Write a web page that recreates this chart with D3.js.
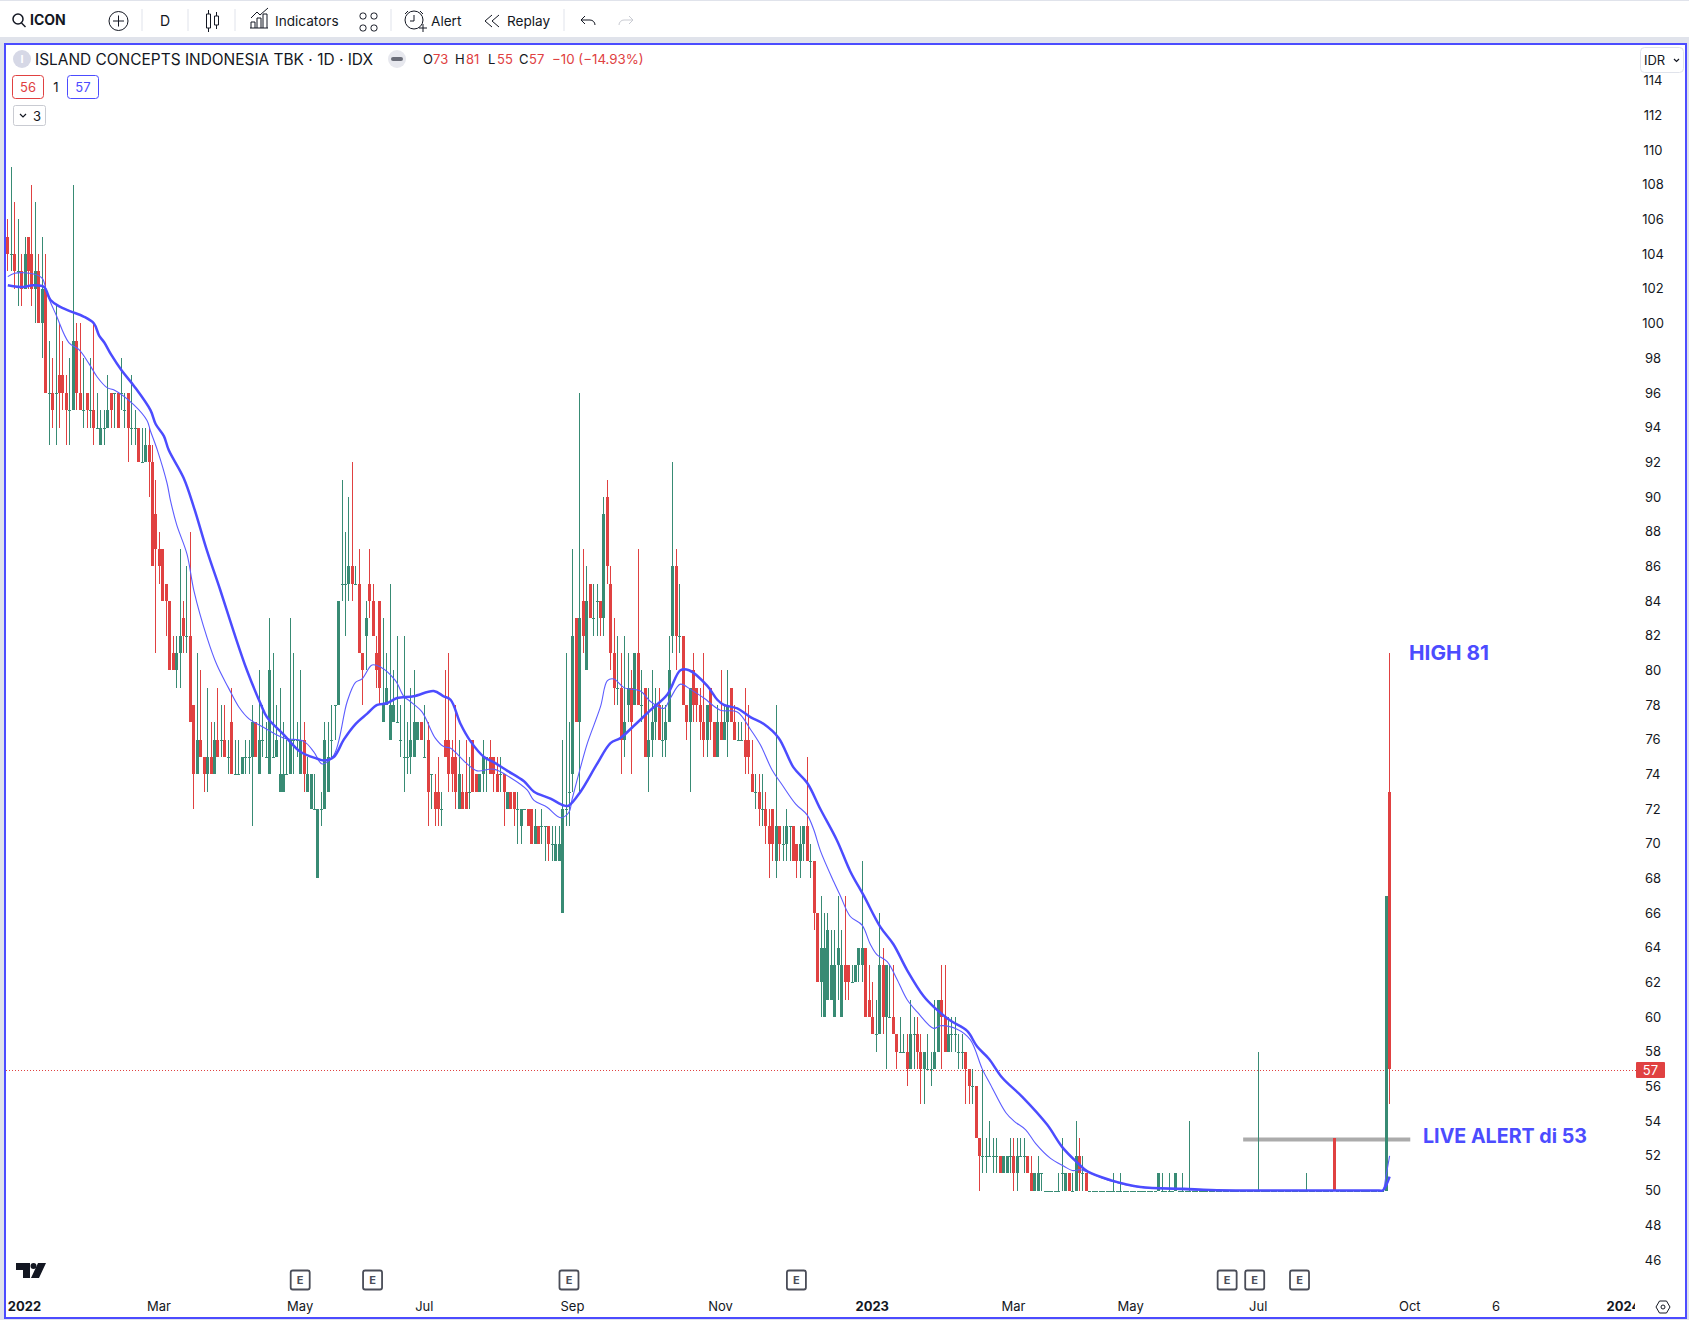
<!DOCTYPE html>
<html><head><meta charset="utf-8">
<script src="https://cdn.jsdelivr.net/npm/d3@7"></script>
<style>html,body{margin:0;padding:0;background:#fff}svg{display:block}text{font-family:Inter,"Noto Sans",sans-serif}</style>
</head><body><svg id="c" width="1689" height="1320"></svg>
<script>
// [open, high, low, close] for every daily bar
const ohlc = [
[105,106,103,104],[104,109,103,104],[104,107,102,103],[103,106,101,103],[103,104,101,102],[102,105,102,104],[105,105,102,103],[104,108,101,102],[102,107,100,103],[103,104,100,100],
[100,105,98,102],[102,104,96,96],[96,99,93,96],[96,98,94,95],[96,101,93,96],[97,100,94,96],[97,99,95,96],[96,97,93,95],[95,98,93,95],[95,108,95,99],
[99,100,95,96],[96,100,95,95],[95,98,94,95],[96,96,94,95],[95,98,94,95],[95,100,93,94],[94,96,94,94],[93,95,93,94],[94,95,93,94],[94,97,94,95],
[96,96,94,95],[96,96,94,96],[96,96,94,94],[96,98,95,96],[95,96,94,95],[96,96,92,94],[94,97,93,94],[94,95,93,94],[94,94,92,92],[92,94,92,92],
[92,94,92,93],[93,94,90,92],[92,93,86,86],[89,91,81,87],[87,88,85,86],[87,87,84,84],[85,85,82,84],[84,84,80,80],[81,82,80,80],[80,82,79,81],
[81,87,79,82],[83,84,81,82],[82,86,81,82],[82,88,77,77],[78,78,72,74],[74,81,74,76],[76,80,75,75],[75,75,73,74],[74,79,73,75],[75,77,74,74],
[74,77,74,76],[76,79,75,75],[76,78,75,76],[76,78,75,75],[75,76,74,75],[77,79,74,74],[74,76,74,74],[74,76,74,74],[74,75,74,75],[75,76,74,75],
[75,76,74,75],[75,78,71,77],[77,77,75,75],[74,80,74,76],[76,78,75,76],[75,77,75,75],[74,83,74,80],[75,81,75,75],[75,78,75,76],[73,79,73,74],
[73,77,73,74],[74,76,74,74],[74,83,74,76],[76,81,74,76],[76,77,75,76],[74,80,74,76],[76,77,73,74],[73,75,73,74],[72,74,72,74],[72,74,72,72],
[68,72,68,72],[72,73,71,72],[72,77,72,76],[73,77,73,75],[76,78,75,76],[78,78,76,78],[78,84,78,84],[85,91,84,85],[85,88,82,85],[85,90,84,86],
[86,92,84,85],[85,86,85,85],[85,87,81,81],[81,81,78,80],[82,84,80,83],[85,87,83,84],[84,85,82,82],[81,82,79,80],[84,84,78,79],[77,83,77,78],
[78,81,78,79],[76,85,76,78],[77,80,77,78],[77,82,77,77],[76,78,75,76],[75,82,73,75],[75,77,74,75],[75,79,74,76],[75,80,75,77],[76,77,76,77],
[77,77,76,76],[75,78,75,75],[76,77,71,73],[74,74,72,74],[73,74,71,72],[73,75,71,72],[72,73,71,72],[76,80,75,75],[76,81,73,74],[75,76,73,74],
[75,78,72,73],[72,76,72,74],[73,74,72,72],[73,76,72,72],[73,75,72,73],[76,76,73,73],[74,74,73,73],[73,74,73,74],[74,76,73,75],[75,75,73,75],
[75,76,74,74],[75,75,73,74],[74,75,73,73],[74,75,73,74],[74,74,71,73],[72,73,72,73],[73,73,72,72],[73,73,71,72],[72,73,70,72],[71,72,70,72],
[72,72,72,72],[72,72,71,71],[72,72,70,70],[70,72,70,71],[71,71,70,70],[71,72,70,71],[71,71,69,71],[71,71,69,70],[70,71,69,70],[69,71,69,70],
[69,71,69,70],[66,76,66,72],[72,81,71,72],[73,77,71,73],[74,87,73,82],[83,83,77,77],[77,96,73,83],[84,87,81,82],[80,86,80,84],[85,85,83,83],
[83,85,82,83],[84,85,82,84],[84,84,82,83],[83,90,82,89],[90,91,85,86],[85,86,80,81],[81,83,78,79],[79,82,78,79],[79,81,74,76],[76,82,75,77],
[78,81,77,79],[79,80,74,77],[78,81,78,81],[81,87,78,78],[78,80,77,78],[79,79,75,75],[75,79,73,76],[76,80,75,77],[77,79,76,78],[78,79,76,76],
[76,78,75,76],[76,78,75,77],[77,82,77,80],[82,92,81,86],[86,87,80,82],[82,85,81,82],[82,82,78,78],[78,78,76,77],[77,79,73,79],[80,81,77,78],
[79,79,77,78],[78,79,76,77],[77,81,75,76],[76,78,75,78],[79,79,76,77],[77,77,75,75],[75,78,75,77],[77,80,76,76],[76,78,76,77],[77,80,75,78],
[79,79,77,77],[77,78,76,76],[76,77,76,76],[76,77,76,76],[76,79,74,75],[76,78,74,75],[74,76,73,73],[73,74,72,73],[73,74,71,72],[72,74,71,72],
[72,73,70,71],[71,72,68,70],[72,72,69,70],[69,78,68,71],[71,71,69,70],[70,71,69,70],[70,72,69,71],[71,71,69,71],[71,71,69,69],[70,70,68,69],
[69,71,68,70],[70,71,69,71],[71,75,69,69],[69,70,68,69],[69,69,65,66],[66,66,62,62],[62,67,60,64],[60,66,60,64],[61,66,61,65],[61,65,61,63],
[60,65,60,63],[63,67,61,64],[60,65,60,63],[63,67,61,62],[63,63,61,62],[62,63,62,62],[62,63,62,63],[63,64,62,64],[63,69,62,64],[64,64,60,60],
[61,63,60,60],[60,62,59,59],[59,61,58,59],[59,66,59,63],[63,64,59,60],[60,63,57,63],[60,63,60,60],[60,63,59,59],[59,59,57,58],[58,60,58,58],
[58,59,58,58],[58,59,56,57],[57,61,57,59],[59,60,57,59],[59,60,57,58],[58,59,55,57],[57,58,55,58],[57,59,57,57],[57,58,56,57],[57,61,57,58],
[58,61,58,61],[61,63,57,60],[60,63,58,58],[58,60,58,59],[59,60,58,59],[59,60,58,59],[58,59,57,58],[58,59,57,58],[58,58,55,57],[57,57,55,56],
[56,57,55,56],[56,56,53,53],[53,53,50,52],[52,57,51,52],[52,53,51,52],[52,54,52,52],[52,53,51,52],[52,53,51,52],[52,52,51,51],[51,52,51,52],
[51,52,51,52],[52,53,51,52],[52,53,50,51],[51,53,50,52],[52,53,52,52],[52,53,51,52],[52,52,51,51],[51,52,50,50],[50,51,50,51],[50,52,50,51],
[51,51,50,51],[50,50,50,50],[50,50,50,50],[50,50,50,50],[50,50,50,50],[50,51,50,50],[51,53,50,51],[50,51,50,51],[51,51,50,50],[50,51,50,50],
[50,54,50,52],[52,53,50,51],[51,52,50,51],[51,51,50,50],[50,50,50,50],[50,50,50,50],[50,50,50,50],[50,50,50,50],[50,50,50,50],[50,50,50,50],
[50,50,50,50],[50,51,50,50],[50,50,50,50],[50,51,50,50],[50,50,50,50],[50,50,50,50],[50,50,50,50],[50,50,50,50],[50,50,50,50],[50,50,50,50],
[50,50,50,50],[50,50,50,50],[50,50,50,50],[50,50,50,50],[50,51,50,51],[50,51,50,50],[50,50,50,50],[50,51,50,50],[50,50,50,50],[50,51,50,51],
[50,50,50,50],[50,51,50,50],[50,50,50,50],[50,54,50,50],[50,50,50,50],[50,50,50,50],[50,50,50,50],[50,50,50,50],[50,50,50,50],[50,50,50,50],
[50,50,50,50],[50,50,50,50],[50,50,50,50],[50,50,50,50],[50,50,50,50],[50,50,50,50],[50,50,50,50],[50,50,50,50],[50,50,50,50],[50,50,50,50],
[50,50,50,50],[50,50,50,50],[50,50,50,50],[50,58,50,50],[50,50,50,50],[50,50,50,50],[50,50,50,50],[50,50,50,50],[50,50,50,50],[50,50,50,50],
[50,50,50,50],[50,50,50,50],[50,50,50,50],[50,50,50,50],[50,50,50,50],[50,50,50,50],[50,50,50,50],[50,51,50,50],[50,50,50,50],[50,50,50,50],
[50,50,50,50],[50,50,50,50],[50,50,50,50],[50,50,50,50],[50,50,50,50],[53,53,50,50],[50,50,50,50],[50,50,50,50],[50,50,50,50],[50,50,50,50],
[50,50,50,50],[50,50,50,50],[50,50,50,50],[50,50,50,50],[50,50,50,50],[50,50,50,50],[50,50,50,50],[50,50,50,50],[50,50,50,50],[50,50,50,50],
[50,67,50,67],[73,81,55,57]
];
// moving averages as [bar number, price]
const slowMA = [[0,102.2],[3.7,102.1],[7.5,102.2],[10.5,102.1],[12.4,101.35],[14.8,101],[18.2,100.7],[22,100.4],[25,100],[26.5,99.3],[28,98.9],[30,98.2],[33,97.3],[36.6,96.4],[41.4,95],[42.9,94.2],[45.3,93.5],[46.7,92.7],[51,91.1],[54,89.4],[57.8,86.9],[61.7,84.6],[65.6,82.2],[69.4,80],[73.3,78.1],[75.2,77.3],[80,76.3],[84.9,75.3],[89.8,74.9],[91.7,74.8],[94.6,75],[97.5,76],[100.9,76.9],[104.3,77.5],[107.2,78],[110,78.1],[113,78.4],[117.8,78.5],[123.6,78.8],[126.5,78.5],[128.5,78.3],[131.4,76.9],[134.3,75.9],[138.2,75],[141,74.7],[145,74.2],[149.8,73.6],[152.7,73],[157.5,72.6],[161.4,72.2],[162.8,72.2],[166.2,73],[171,74.6],[174.9,75.8],[177.8,76.1],[181.7,76.8],[186.5,77.7],[191.4,78.6],[195.2,80],[197.7,80],[203,79.1],[205.9,78.3],[207.8,78],[211.7,77.8],[215.5,77.3],[219.4,76.9],[223.7,76.1],[228,74.4],[232,73.5],[235.8,72],[240.6,70.2],[244.5,68.4],[248.4,67],[253.2,65.2],[257,64.2],[261,62.7],[265.8,61.2],[269.2,60.5],[273.5,59.8],[278.4,59.2],[281.3,58.3],[284.7,57.6],[288.6,56.5],[294.4,55.4],[301.6,53.8],[306,52.5],[310.4,51.6],[313.3,51.1],[320,50.6],[328.7,50.2],[341.3,50.1],[349,50.03],[360,50],[375,50],[390,50],[398,50],[399,50],[400,50.3],[401,50.8]];
const fastMA = [[0,102.7],[2,102.9],[7.5,102.85],[10,102.6],[11.4,101.7],[14,100.5],[17.7,98.9],[20.6,98.5],[23.5,97.7],[26,96.9],[28.8,96.3],[31,96.15],[36.6,95.3],[40.4,94.4],[41.4,93.8],[43.4,92.7],[46.2,90.8],[47.2,89.8],[49,88.4],[52,86.7],[54,84.6],[57.8,81.9],[60.7,80.3],[64,79],[67,77.9],[70,77.2],[74.3,76.7],[80,76.1],[85.9,75.9],[88.8,75.3],[91.2,74.6],[94.6,75.1],[98.5,78.2],[100.9,79.3],[102.8,79.5],[105.7,80.3],[108,80.2],[112.5,79.4],[114.9,78.5],[116.8,78.2],[120.2,77.6],[124,76.1],[126.5,75.6],[128.5,75.5],[133.3,74.6],[136.2,74.2],[141,74.3],[145.9,73.8],[150.7,73.1],[152.7,72.5],[156.5,72.1],[160.4,71.5],[162.8,71.8],[163.8,72.6],[166.2,74.4],[168.2,75.8],[172,77.9],[174,79.4],[175.9,79.5],[178.8,79],[183.6,78.8],[186.5,78.2],[190.4,77.8],[192.3,78.4],[195.2,79.2],[198.1,78.9],[202,78.4],[206.8,77.7],[211.7,77.6],[215.5,76.6],[218.4,75.7],[221.8,74.25],[224.7,73.4],[228.6,72.3],[232,71.65],[233.9,70.8],[235.8,69.6],[239.7,67.8],[241.6,67],[244.5,65.8],[247.9,65.3],[250.3,64.2],[252.2,63.6],[255.2,63.2],[258,62.2],[261,61],[263.9,60.3],[268.7,59.35],[270.6,59.5],[275.5,59.3],[279.3,58.7],[282.8,57],[285.2,56.1],[289.6,54.5],[292,54],[295.4,53.5],[298.3,52.7],[302.6,51.85],[306.5,51.4],[308.9,51.15],[311.3,51.2],[314.2,51],[320,50.55],[328,50.2],[340,50.05],[350,50],[365,50],[380,50],[398,50],[399,50],[400,50.9],[401,52]];
const priceTicks = [46,48,50,52,54,56,58,60,62,64,66,68,70,72,74,76,78,80,82,84,86,88,90,92,94,96,98,100,102,104,106,108,110,112,114];
const timeTickBars = [5,44,85,121,164,207,251,292,326,363,407,432,469];
const timeTickLabels = ["2022","Mar","May","Jul","Sep","Nov","2023","Mar","May","Jul","Oct","6","2024"];
const earningsBars = [85,106,163,229,354,362,375];
const lastClose = 57;
const alertLevel = 53;
const alertSpan = [358.5,407];

const GREEN="#388b74", RED="#e04141", BLUE="#4c4cff", INK="#131722";
const svg=d3.select("#c");
const x=d3.scaleLinear().domain([0,401]).range([7.8,1389.6]);
const y=d3.scaleLinear().domain([50,114]).range([1190.5,80.7]);

// page frame
svg.append("rect").attr("width",1689).attr("height",1320).attr("fill","#e0e3eb");
svg.append("rect").attr("y",1).attr("width",1689).attr("height",36).attr("fill","#fff");
svg.append("rect").attr("x",5).attr("y",44).attr("width",1681).attr("height",1274).attr("fill","#fff").attr("stroke",BLUE).attr("stroke-width",2);

// last price dotted line, alert line
svg.append("line").attr("x1",6).attr("x2",1636).attr("y1",Math.round(y(lastClose))+1.5).attr("y2",Math.round(y(lastClose))+1.5)
  .attr("stroke",RED).attr("stroke-width",1).attr("stroke-dasharray","1 2");
svg.append("line").attr("x1",x(alertSpan[0])).attr("x2",x(alertSpan[1])).attr("y1",y(alertLevel)+1).attr("y2",y(alertLevel)+1)
  .attr("stroke","#ababab").attr("stroke-width",4);

// candles
const bars=svg.append("g").selectAll("g").data(ohlc).join("g")
  .attr("fill",d=>d[3]<d[0]?RED:GREEN);
bars.append("rect").attr("x",(d,i)=>Math.floor(x(i))).attr("width",1)
  .attr("y",d=>Math.round(y(d[1]))).attr("height",d=>Math.max(1,Math.round(y(d[2]))-Math.round(y(d[1]))));
bars.append("rect").attr("x",(d,i)=>Math.floor(x(i))-1).attr("width",3)
  .attr("y",d=>Math.round(y(Math.max(d[0],d[3])))).attr("height",d=>Math.max(1,Math.round(y(Math.min(d[0],d[3])))-Math.round(y(Math.max(d[0],d[3])))));

// moving averages
const line=d3.line().curve(d3.curveCatmullRom.alpha(0.5)).x(d=>x(d[0])).y(d=>y(d[1]));
svg.append("path").datum(fastMA).attr("d",line).attr("fill","none").attr("stroke","#5c5cff").attr("stroke-width",1.1);
svg.append("path").datum(slowMA).attr("d",line).attr("fill","none").attr("stroke",BLUE).attr("stroke-width",2.5);

// price axis
const yAxis=d3.axisRight(y).tickValues(priceTicks).tickSize(0).tickPadding(0).tickFormat(d3.format("d"));
const gy=svg.append("g").attr("transform","translate(1653,0)").call(yAxis);
gy.select(".domain").remove();
gy.selectAll("text").attr("text-anchor","middle").attr("font-family","Inter").attr("font-size",13).attr("fill",INK);

// time axis
svg.append("clipPath").attr("id","tc").append("rect").attr("x",0).attr("y",1290).attr("width",1635).attr("height",28);
const xAxis=d3.axisBottom(x).tickValues(timeTickBars).tickSize(0).tickPadding(0).tickFormat(d=>timeTickLabels[timeTickBars.indexOf(d)]);
const gx=svg.append("g").attr("clip-path","url(#tc)").append("g").attr("transform","translate(-1,1302)").call(xAxis);
gx.select(".domain").remove();
gx.selectAll("text").attr("font-family","Inter").attr("font-size",13).attr("fill",INK)
  .attr("font-weight",d=>/^20/.test(timeTickLabels[timeTickBars.indexOf(d)])?700:400);

// earnings markers
const e=svg.append("g").selectAll("g").data(earningsBars).join("g").attr("transform",d=>`translate(${x(d)-0.5},1280)`);
e.append("rect").attr("x",-9.5).attr("y",-9.5).attr("width",19).attr("height",19).attr("rx",2).attr("fill","#fff").attr("stroke","#4a4d58").attr("stroke-width",1.8);
e.append("text").attr("text-anchor","middle").attr("y",4).attr("font-size",11).attr("font-weight",700).attr("fill","#4a4d58").text("E");

// annotations
svg.append("text").attr("x",1409).attr("y",660).attr("font-size",20).attr("font-weight",700).attr("fill",BLUE).attr("textLength",80).attr("lengthAdjust","spacingAndGlyphs").text("HIGH 81");
svg.append("text").attr("x",1423).attr("y",1143).attr("font-size",20).attr("font-weight",700).attr("fill",BLUE).attr("textLength",164).attr("lengthAdjust","spacingAndGlyphs").text("LIVE ALERT di 53");

// current price label
svg.append("rect").attr("x",1636).attr("y",1062).attr("width",29).attr("height",16).attr("rx",1).attr("fill",RED);
svg.append("text").attr("x",1650.5).attr("y",1075).attr("text-anchor","middle").attr("font-size",13).attr("fill","#fff").text(lastClose);

// legend
const T=(xx,yy,s,o={})=>svg.append("text").attr("x",xx).attr("y",yy).attr("font-size",o.size||14).attr("font-weight",o.w||400).attr("fill",o.c||INK).attr("text-anchor",o.a||"start").text(s);
svg.append("circle").attr("cx",22).attr("cy",59).attr("r",9).attr("fill","#d6d8e6");
T(22,63,"I",{size:11,c:"#fff",a:"middle",w:700});
T(35,65,"ISLAND CONCEPTS INDONESIA TBK · 1D · IDX",{size:15.45});
svg.append("circle").attr("cx",397).attr("cy",59).attr("r",9).attr("fill","#e7e8ee");
svg.append("rect").attr("x",391).attr("y",57).attr("width",12).attr("height",4).attr("rx",2).attr("fill","#6a6d78");
T(423,64,"O",{size:13});T(433,64,"73",{size:13,c:RED});
T(455,64,"H",{size:13});T(466,64,"81",{size:13,c:RED});
T(488,64,"L",{size:13});T(497,64,"55",{size:13,c:RED});
T(519,64,"C",{size:13});T(529,64,"57",{size:13,c:RED});
T(552,64,"−10 (−14.93%)",{size:13.3,c:RED});
svg.append("rect").attr("x",12.5).attr("y",75.5).attr("width",31).attr("height",23).attr("rx",3).attr("fill","#fff").attr("stroke",RED);
T(28,92,"56",{size:13,c:RED,a:"middle"});
T(56,92,"1",{size:13,a:"middle"});
svg.append("rect").attr("x",67.5).attr("y",75.5).attr("width",31).attr("height",23).attr("rx",3).attr("fill","#fff").attr("stroke",BLUE);
T(83,92,"57",{size:13,c:BLUE,a:"middle"});
svg.append("rect").attr("x",13.5).attr("y",105.5).attr("width",32).attr("height",20).attr("rx",2).attr("fill","#fff").attr("stroke","#c9cbd2");
svg.append("path").attr("d","M20 114l3 3 3-3").attr("fill","none").attr("stroke",INK).attr("stroke-width",1.2);
T(37,121,"3",{size:13,a:"middle"});
// currency
svg.append("rect").attr("x",1640.5).attr("y",47.5).attr("width",43).attr("height",25).attr("rx",4).attr("fill","#fff").attr("stroke","#e0e3eb");
T(1644,65,"IDR",{size:13});
svg.append("path").attr("d","M1674 59l2.5 2.5 2.5-2.5").attr("fill","none").attr("stroke",INK).attr("stroke-width",1.2);

// logo and settings
svg.append("path").attr("d","M16 1263h14v15h-7v-8h-7z M38 1263h8l-7 15h-8z").attr("fill",INK);
svg.append("circle").attr("cx",33.5).attr("cy",1266).attr("r",3).attr("fill",INK);
svg.append("path").attr("d","M1656 1307l3.5-6h7l3.5 6-3.5 6h-7z").attr("fill","none").attr("stroke",INK).attr("stroke-width",1);
svg.append("circle").attr("cx",1663).attr("cy",1307).attr("r",2).attr("fill","none").attr("stroke",INK);

// toolbar
const S=(d,w=1.2)=>svg.append("path").attr("d",d).attr("fill","none").attr("stroke",INK).attr("stroke-width",w);
svg.append("circle").attr("cx",18).attr("cy",19).attr("r",5).attr("fill","none").attr("stroke",INK).attr("stroke-width",1.5);
S("M21.5 23l4 4",1.5);
T(30,25,"ICON",{size:14,w:700});
svg.append("circle").attr("cx",118.5).attr("cy",21).attr("r",9.5).attr("fill","none").attr("stroke",INK).attr("stroke-width",1);
S("M113 21h11M118.5 15.500v11",1);
[142,188,235,391,564].forEach(v=>svg.append("line").attr("x1",v).attr("x2",v).attr("y1",9).attr("y2",31).attr("stroke","#e0e3eb"));
T(165,26,"D",{size:14,a:"middle"});
S("M206.500 14h4v14h-4zM208.500 10v4M208.500 28v4M214.500 16h4v9h-4zM216.500 12v4M216.500 25v4",1);
S("M251 28v-6h4v6M257 28v-10h4v10M263 28v-14h4v14M250 28h18M251 18l6-6 3 3 8-7",1);
T(275,26,"Indicators",{size:13.6});
[[360,13],[371,13],[360,25],[371,25]].forEach(p=>svg.append("rect").attr("x",p[0]).attr("y",p[1]).attr("width",6).attr("height",6).attr("rx",2.500).attr("fill","none").attr("stroke",INK));
svg.append("circle").attr("cx",414).attr("cy",20).attr("r",9).attr("fill","none").attr("stroke",INK);
S("M414 15v6h-4M405 14l3-3M423 14l-3-3M419 28h8M423 24v8",1);
T(431,26,"Alert",{size:13.6});
S("M492 15l-7 6 7 6M499 15l-7 6 7 6",1);
T(507,26,"Replay",{size:13.6});
S("M581 20h9a5 5 0 0 1 5 5M581 20l4-4M581 20l4 4",1);
svg.append("path").attr("d","M633 20h-9a5 5 0 0 0-5 5M633 20l-4-4M633 20l-4 4").attr("fill","none").attr("stroke","#c9cbd2");
</script></body></html>
